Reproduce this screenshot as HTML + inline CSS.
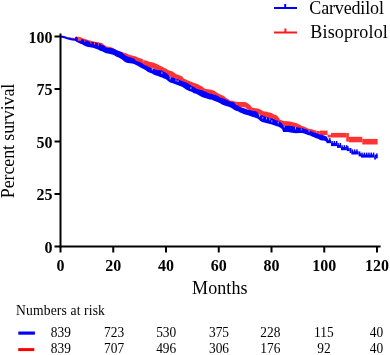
<!DOCTYPE html>
<html><head><meta charset="utf-8"><title>Kaplan-Meier</title>
<style>html,body{margin:0;padding:0;background:#fff;width:390px;height:355px;overflow:hidden}svg{display:block}</style>
</head><body>
<svg width="390" height="355" viewBox="0 0 390 355">
<polygon points="75.0,37.5 76.0,36.4 78.0,36.8 80.0,37.3 82.0,38.1 85.0,39.0 88.0,40.1 90.0,40.6 93.0,41.2 95.0,41.8 98.0,42.3 100.0,42.7 102.0,43.1 104.0,44.8 106.0,46.3 110.0,47.1 112.0,47.4 114.0,48.8 116.0,49.9 118.0,50.8 120.0,51.6 122.0,52.1 124.0,52.8 126.0,53.2 128.0,54.2 130.0,54.9 132.0,55.6 134.0,56.1 136.0,56.6 138.0,57.4 140.0,58.2 142.0,58.8 144.0,60.3 146.0,60.6 148.0,61.3 150.0,61.9 152.0,62.2 154.0,62.8 156.0,63.7 158.0,64.4 160.0,65.8 162.0,66.4 164.0,67.7 166.0,68.6 168.0,70.0 170.0,70.8 172.0,71.2 174.0,72.6 176.0,74.0 178.0,74.7 180.0,75.5 182.0,76.2 184.0,78.8 186.0,79.4 188.0,80.5 190.0,81.2 192.0,81.9 194.0,82.9 196.0,83.6 198.0,84.3 200.0,85.5 202.0,86.2 204.0,88.2 206.0,89.0 208.0,89.2 210.0,89.4 212.0,90.0 214.0,90.5 216.0,91.9 218.0,93.2 220.0,94.3 222.0,95.2 224.0,96.0 226.0,97.9 228.0,98.9 230.0,100.5 232.0,100.8 234.0,101.2 236.0,101.8 240.0,102.0 244.0,102.1 246.0,102.3 248.0,103.5 250.0,105.0 252.0,107.6 254.0,107.9 256.0,108.2 258.0,108.5 260.0,109.2 262.0,110.5 264.0,111.4 266.0,111.6 268.0,112.2 270.0,112.4 272.0,113.2 274.0,114.5 276.0,115.0 278.0,116.4 280.0,119.8 282.0,120.6 284.0,121.0 290.0,121.6 296.0,122.9 300.0,124.8 302.0,125.9 304.0,126.4 306.0,127.4 308.0,128.6 310.0,129.0 312.0,129.3 314.0,129.9 316.5,130.8 316.5,136.8 314.0,135.9 312.0,135.3 310.0,135.0 308.0,134.6 306.0,133.4 304.0,132.4 302.0,131.9 300.0,130.8 296.0,128.9 290.0,127.6 284.0,127.0 282.0,126.6 280.0,125.8 278.0,122.4 276.0,121.0 274.0,120.5 272.0,119.2 270.0,118.4 268.0,118.2 266.0,117.6 264.0,117.4 262.0,116.5 260.0,115.2 258.0,114.5 256.0,114.2 254.0,113.9 252.0,113.6 250.0,111.0 248.0,109.5 246.0,108.3 244.0,108.1 240.0,108.0 236.0,107.8 234.0,107.2 232.0,106.8 230.0,106.5 228.0,104.9 226.0,103.9 224.0,102.0 222.0,101.2 220.0,100.3 218.0,99.2 216.0,97.9 214.0,96.5 212.0,96.0 210.0,95.4 208.0,95.2 206.0,95.0 204.0,94.2 202.0,92.2 200.0,91.5 198.0,90.3 196.0,89.6 194.0,88.9 192.0,87.9 190.0,87.2 188.0,86.5 186.0,85.4 184.0,84.8 182.0,82.2 180.0,81.5 178.0,80.7 176.0,80.0 174.0,78.6 172.0,77.2 170.0,76.8 168.0,76.0 166.0,74.6 164.0,73.7 162.0,72.4 160.0,71.8 158.0,70.4 156.0,69.7 154.0,68.8 152.0,68.2 150.0,67.9 148.0,67.3 146.0,66.6 144.0,66.3 142.0,64.8 140.0,64.2 138.0,63.4 136.0,62.6 134.0,62.1 132.0,61.6 130.0,60.9 128.0,60.2 126.0,59.2 124.0,58.8 122.0,58.1 120.0,57.6 118.0,56.8 116.0,55.9 114.0,54.7 112.0,53.4 110.0,53.1 106.0,52.3 104.0,50.8 102.0,49.1 100.0,48.7 98.0,48.3 95.0,47.8 93.0,47.2 90.0,46.6 88.0,46.1 85.0,45.0 82.0,44.0 80.0,43.2 78.0,42.2 76.0,41.3 75.0,40.5" fill="#ff3333"/>
<rect x="316.5" y="131.0" width="3.3" height="3.5" fill="#ff3333"/>
<rect x="319.8" y="130.6" width="7.7" height="4.5" fill="#ff3333"/>
<rect x="327.5" y="134.8" width="3.4" height="2.7" fill="#ff3333"/>
<rect x="330.9" y="132.9" width="15.3" height="4.6" fill="#ff3333"/>
<rect x="346.2" y="133.0" width="2.7" height="8.6" fill="#ff3333"/>
<rect x="348.9" y="136.8" width="13.4" height="5.5" fill="#ff3333"/>
<rect x="362.3" y="138.9" width="15.3" height="5.6" fill="#ff3333"/>
<polygon points="60.0,35.4 63.0,35.7 65.0,36.2 67.0,37.1 70.0,37.6 72.0,37.9 75.0,38.2 76.0,36.5 78.0,38.0 80.0,39.2 82.0,39.3 85.0,40.1 88.0,40.9 90.0,42.0 93.0,42.1 95.0,42.3 98.0,43.2 100.0,43.6 102.0,44.9 104.0,45.5 106.0,47.5 108.0,48.1 110.0,48.1 112.0,48.3 114.0,48.7 116.0,49.8 118.0,50.7 120.0,51.4 122.0,52.3 124.0,54.4 126.0,55.7 128.0,56.8 130.0,57.3 132.0,57.9 134.0,58.4 136.0,60.8 138.0,61.6 140.0,62.1 142.0,63.3 144.0,64.7 146.0,65.6 148.0,66.5 150.0,67.4 152.0,68.2 154.0,69.1 156.0,69.6 158.0,70.2 160.0,70.2 162.0,70.5 164.0,71.9 166.0,72.7 168.0,74.4 170.0,77.1 172.0,77.3 174.0,77.7 176.0,78.9 178.0,79.3 180.0,80.3 182.0,80.9 184.0,81.7 186.0,82.4 188.0,83.3 190.0,84.7 192.0,86.2 194.0,87.1 196.0,88.6 198.0,89.2 200.0,89.7 202.0,90.2 204.0,91.2 206.0,91.8 208.0,92.9 210.0,93.5 212.0,94.1 214.0,94.7 216.0,95.3 218.0,96.0 220.0,97.4 222.0,98.0 224.0,98.7 226.0,99.4 228.0,100.5 230.0,101.5 232.0,101.9 234.0,102.3 236.0,105.1 238.0,105.5 240.0,106.9 242.0,107.8 244.0,108.2 246.0,108.9 248.0,109.8 250.0,110.3 252.0,110.8 254.0,111.0 256.0,111.3 257.5,112.3 258.5,114.4 260.0,115.6 262.0,115.3 264.0,116.0 266.0,117.1 268.0,117.6 270.0,118.0 272.0,118.4 274.0,119.2 276.0,120.3 278.0,120.7 280.0,122.0 282.0,123.2 283.2,125.6 285.0,126.0 288.0,125.7 292.0,126.0 296.0,127.2 300.0,127.8 302.0,128.1 304.0,128.7 306.0,129.4 308.0,130.0 310.0,130.8 312.0,131.5 314.0,132.6 316.0,133.1 318.0,133.7 320.0,134.4 322.0,134.7 324.0,135.5 327.0,136.8 327.0,141.9 324.0,140.5 322.0,140.4 320.0,139.9 318.0,138.8 316.0,138.3 314.0,137.2 312.0,136.4 310.0,135.5 308.0,134.9 306.0,134.3 304.0,133.6 302.0,133.0 300.0,133.0 296.0,133.3 292.0,132.8 288.0,132.0 285.0,132.0 283.2,131.9 282.0,128.9 280.0,127.4 278.0,126.5 276.0,125.9 274.0,125.3 272.0,124.6 270.0,123.9 268.0,123.5 266.0,123.1 264.0,122.4 262.0,122.0 260.0,120.7 258.5,119.3 257.5,118.5 256.0,118.0 254.0,117.3 252.0,116.7 250.0,115.9 248.0,115.3 246.0,114.7 244.0,114.2 242.0,113.3 240.0,112.6 238.0,111.3 236.0,110.7 234.0,109.7 232.0,108.2 230.0,107.3 228.0,106.6 226.0,106.0 224.0,105.2 222.0,104.4 220.0,103.2 218.0,102.3 216.0,101.4 214.0,100.8 212.0,99.8 210.0,99.5 208.0,98.9 206.0,98.3 204.0,97.7 202.0,97.0 200.0,95.9 198.0,94.8 196.0,93.8 194.0,93.2 192.0,92.1 190.0,91.3 188.0,90.5 186.0,89.5 184.0,88.1 182.0,86.8 180.0,86.1 178.0,85.3 176.0,84.5 174.0,83.7 172.0,83.0 170.0,82.4 168.0,81.1 166.0,79.2 164.0,78.4 162.0,77.5 160.0,77.0 158.0,75.9 156.0,75.5 154.0,74.7 152.0,73.5 150.0,72.7 148.0,71.9 146.0,70.4 144.0,69.3 142.0,68.2 140.0,67.2 138.0,66.0 136.0,65.1 134.0,64.0 132.0,63.6 130.0,63.2 128.0,62.9 126.0,62.4 124.0,61.3 122.0,59.4 120.0,58.2 118.0,57.2 116.0,56.4 114.0,55.0 112.0,54.4 110.0,54.1 108.0,53.6 106.0,53.3 104.0,52.2 102.0,51.2 100.0,50.8 98.0,49.4 95.0,48.4 93.0,47.7 90.0,47.3 88.0,47.0 85.0,46.0 82.0,44.3 80.0,43.5 78.0,42.5 76.0,41.6 75.0,40.8 72.0,40.5 70.0,39.9 67.0,39.3 65.0,38.5 63.0,37.9 60.0,37.6" fill="#0000ff"/>
<rect x="326.5" y="140.1" width="4.55" height="3.1" fill="#0000ff"/>
<rect x="331" y="142.9" width="6.05" height="3.2" fill="#0000ff"/>
<rect x="337" y="144.8" width="4.05" height="3.1" fill="#0000ff"/>
<rect x="341" y="147.1" width="5.85" height="3.1" fill="#0000ff"/>
<rect x="346.8" y="148.1" width="2.85" height="3.0" fill="#0000ff"/>
<rect x="349.6" y="149.9" width="1.75" height="3.1" fill="#0000ff"/>
<rect x="351.3" y="151.3" width="7.35" height="3.2" fill="#0000ff"/>
<rect x="358.6" y="153.3" width="2.45" height="3.1" fill="#0000ff"/>
<rect x="361" y="154.5" width="13.25" height="3.1" fill="#0000ff"/>
<rect x="374.2" y="156.5" width="1.65" height="3.1" fill="#0000ff"/>
<rect x="375.8" y="155.3" width="1.95" height="3.1" fill="#0000ff"/>
<rect x="326.80" y="138.2" width="1.5" height="2.6" fill="#0000ff"/>
<rect x="329.10" y="138.2" width="1.5" height="2.6" fill="#0000ff"/>
<rect x="331.30" y="141.0" width="1.5" height="2.6" fill="#0000ff"/>
<rect x="333.60" y="141.0" width="1.5" height="2.6" fill="#0000ff"/>
<rect x="335.90" y="141.0" width="1.5" height="2.6" fill="#0000ff"/>
<rect x="337.30" y="142.9" width="1.5" height="2.6" fill="#0000ff"/>
<rect x="339.60" y="142.9" width="1.5" height="2.6" fill="#0000ff"/>
<rect x="341.30" y="145.2" width="1.5" height="2.6" fill="#0000ff"/>
<rect x="343.60" y="145.2" width="1.5" height="2.6" fill="#0000ff"/>
<rect x="345.90" y="145.2" width="1.5" height="2.6" fill="#0000ff"/>
<rect x="347.10" y="146.2" width="1.5" height="2.6" fill="#0000ff"/>
<rect x="349.90" y="148.0" width="1.5" height="2.6" fill="#0000ff"/>
<rect x="351.60" y="149.4" width="1.5" height="2.6" fill="#0000ff"/>
<rect x="353.90" y="149.4" width="1.5" height="2.6" fill="#0000ff"/>
<rect x="356.20" y="149.4" width="1.5" height="2.6" fill="#0000ff"/>
<rect x="358.90" y="151.4" width="1.5" height="2.6" fill="#0000ff"/>
<rect x="361.30" y="152.6" width="1.5" height="2.6" fill="#0000ff"/>
<rect x="363.60" y="152.6" width="1.5" height="2.6" fill="#0000ff"/>
<rect x="365.90" y="152.6" width="1.5" height="2.6" fill="#0000ff"/>
<rect x="368.20" y="152.6" width="1.5" height="2.6" fill="#0000ff"/>
<rect x="370.50" y="152.6" width="1.5" height="2.6" fill="#0000ff"/>
<rect x="372.80" y="152.6" width="1.5" height="2.6" fill="#0000ff"/>
<rect x="374.50" y="154.6" width="1.5" height="2.6" fill="#0000ff"/>
<rect x="376.10" y="153.4" width="1.5" height="2.6" fill="#0000ff"/>
<rect x="142.8" y="60.3" width="1" height="1.8" fill="#a0a0ff"/>
<rect x="151.8" y="67.8" width="1" height="2.6" fill="#a0a0ff"/>
<rect x="161.4" y="71.7" width="1" height="2.5" fill="#a0a0ff"/>
<rect x="169.7" y="76.8" width="1" height="2.6" fill="#a0a0ff"/>
<rect x="175.5" y="79.4" width="1" height="1.9" fill="#a0a0ff"/>
<rect x="177.5" y="80.2" width="1" height="1.8" fill="#a0a0ff"/>
<rect x="190.4" y="87" width="1" height="2" fill="#a0a0ff"/>
<rect x="259" y="114.2" width="1" height="2.6" fill="#a0a0ff"/>
<rect x="262.2" y="116.8" width="1" height="1.9" fill="#a0a0ff"/>
<rect x="266" y="117.4" width="1" height="2" fill="#a0a0ff"/>
<rect x="269.2" y="118.3" width="1" height="2" fill="#a0a0ff"/>
<rect x="271.3" y="120.3" width="1" height="1.9" fill="#a0a0ff"/>
<rect x="277.7" y="121.5" width="1" height="2" fill="#a0a0ff"/>
<rect x="283.7" y="125.6" width="1" height="1.9" fill="#a0a0ff"/>
<rect x="295" y="126.9" width="1" height="2.5" fill="#a0a0ff"/>
<rect x="300.8" y="128.4" width="1" height="2" fill="#a0a0ff"/>
<rect x="308.5" y="130.2" width="1" height="2" fill="#a0a0ff"/>
<rect x="241.7" y="106.9" width="3.8" height="0.9" fill="#ffd0d0"/>
<rect x="67.6" y="37.0" width="1" height="1.0" fill="#ff4040"/>
<rect x="68.6" y="37.1" width="1" height="0.9" fill="#ff4040"/>
<rect x="71.6" y="37.6" width="1" height="1.0" fill="#ff4040"/>
<rect x="72.6" y="37.7" width="1" height="1.0" fill="#ff4040"/>
<rect x="73.6" y="37.9" width="1" height="0.9" fill="#ff4040"/>
<rect x="84.4" y="39.2" width="1" height="2.8" fill="#ff4040"/>
<rect x="90.4" y="41.4" width="1" height="2.6" fill="#ff4040"/>
<rect x="94.0" y="42.0" width="1" height="2.8" fill="#ff4040"/>
<rect x="98.0" y="42.8" width="1" height="2.8" fill="#ff4040"/>
<rect x="77.8" y="37.2" width="3.4" height="3.6" fill="#ff4a3a"/>
<g stroke="#000" stroke-width="2" fill="none">
<path d="M60.5,33.5 V247.5"/>
<path d="M59.5,246.5 H380.6"/>
<path d="M54.5,246.5 H60.5"/>
<path d="M54.5,194.0 H60.5"/>
<path d="M54.5,141.5 H60.5"/>
<path d="M54.5,89.0 H60.5"/>
<path d="M54.5,36.5 H60.5"/>
<path d="M60.5,246.5 V252.5"/>
<path d="M113.25,246.5 V252.5"/>
<path d="M166.0,246.5 V252.5"/>
<path d="M218.75,246.5 V252.5"/>
<path d="M271.5,246.5 V252.5"/>
<path d="M324.25,246.5 V252.5"/>
<path d="M377.0,246.5 V252.5"/>
</g>
<g font-family="Liberation Serif, serif" font-weight="bold" font-size="16" text-anchor="end" fill="#000">
<text transform="translate(52.4,252.5) scale(1,1.06)">0</text>
<text transform="translate(52.4,200.0) scale(1,1.06)">25</text>
<text transform="translate(52.4,147.5) scale(1,1.06)">50</text>
<text transform="translate(52.4,95.0) scale(1,1.06)">75</text>
<text transform="translate(52.4,42.5) scale(1,1.06)">100</text>
</g>
<g font-family="Liberation Serif, serif" font-weight="bold" font-size="16" text-anchor="middle" fill="#000">
<text transform="translate(60.5,270.9) scale(1,1.06)">0</text>
<text transform="translate(113.2,270.9) scale(1,1.06)">20</text>
<text transform="translate(166.0,270.9) scale(1,1.06)">40</text>
<text transform="translate(218.8,270.9) scale(1,1.06)">60</text>
<text transform="translate(271.5,270.9) scale(1,1.06)">80</text>
<text transform="translate(324.2,270.9) scale(1,1.06)">100</text>
<text transform="translate(377.0,270.9) scale(1,1.06)">120</text>
</g>
<text x="219.8" y="293.6" font-family="Liberation Serif, serif" font-size="18" text-anchor="middle" textLength="55.5" lengthAdjust="spacing">Months</text>
<text transform="translate(13.9,140.9) rotate(-90)" font-family="Liberation Serif, serif" font-size="18" text-anchor="middle" textLength="114.5" lengthAdjust="spacing">Percent survival</text>
<path d="M274,8 H297 M285.2,4 V8" stroke="#0000ff" stroke-width="2" fill="none"/>
<path d="M274,32.5 H297 M285.4,28.5 V32.5" stroke="#ff1a1a" stroke-width="2" fill="none"/>
<text x="309.3" y="14.2" font-family="Liberation Serif, serif" font-size="18" textLength="74.6" lengthAdjust="spacing">Carvedilol</text>
<text x="310.3" y="38.4" font-family="Liberation Serif, serif" font-size="18" textLength="77.5" lengthAdjust="spacing">Bisoprolol</text>
<text x="16.1" y="315.3" font-family="Liberation Serif, serif" font-size="13.6" textLength="88.8" lengthAdjust="spacing">Numbers at risk</text>
<path d="M18.3,333.1 H34.9" stroke="#0000ff" stroke-width="3.2"/>
<path d="M18.2,349.6 H34.3" stroke="#ff0000" stroke-width="3"/>
<g font-family="Liberation Serif, serif" font-size="13.4" text-anchor="middle" fill="#000">
<text transform="translate(60.9,336.8) scale(1,1.05)">839</text>
<text transform="translate(114.1,336.8) scale(1,1.05)">723</text>
<text transform="translate(166.2,336.8) scale(1,1.05)">530</text>
<text transform="translate(219.0,336.8) scale(1,1.05)">375</text>
<text transform="translate(270.4,336.8) scale(1,1.05)">228</text>
<text transform="translate(323.9,336.8) scale(1,1.05)">115</text>
<text transform="translate(376.4,336.8) scale(1,1.05)">40</text>
<text transform="translate(60.9,352.7) scale(1,1.05)">839</text>
<text transform="translate(114.1,352.7) scale(1,1.05)">707</text>
<text transform="translate(166.2,352.7) scale(1,1.05)">496</text>
<text transform="translate(219.0,352.7) scale(1,1.05)">306</text>
<text transform="translate(270.4,352.7) scale(1,1.05)">176</text>
<text transform="translate(323.9,352.7) scale(1,1.05)">92</text>
<text transform="translate(376.4,352.7) scale(1,1.05)">40</text>
</g>
</svg>
</body></html>
